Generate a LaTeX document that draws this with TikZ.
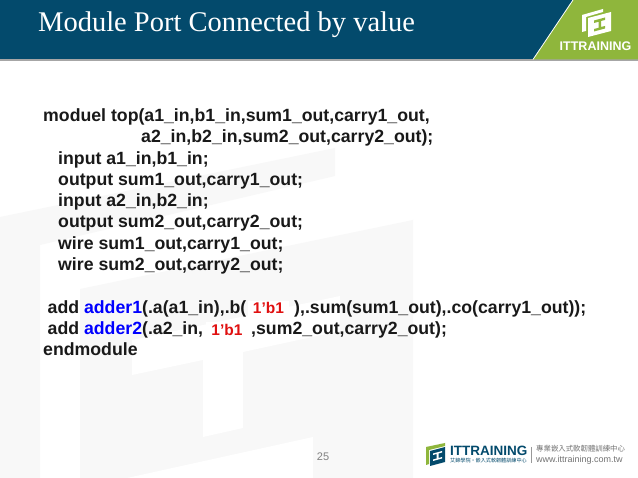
\documentclass[tikz,border=0pt]{standalone}
\usepackage{fontspec}
\setmainfont{Liberation Sans}
\newfontfamily\titlefont{Liberation Serif}
\newfontfamily\cjkfont{Noto Sans CJK TC}
\usepackage{xcolor}
\definecolor{bannerblue}{HTML}{034A6C}
\definecolor{leafgreen}{HTML}{8FB63C}
\definecolor{markgrey}{HTML}{F8F8F8}
\definecolor{valred}{HTML}{E01010}
\tikzset{codeline/.style={anchor=base west,inner sep=0pt,font=\fontsize{17.7}{20}\selectfont\bfseries,text=black!90},
 redval/.style={anchor=base,fill=white,inner xsep=5pt,inner ysep=2pt,font=\fontsize{15.5}{18}\selectfont\bfseries,text=valred},
 footline/.style={anchor=base west,inner sep=0pt,text=black!55},
 }
\begin{document}
\begin{tikzpicture}[x=1pt,y=-1pt]
        \useasboundingbox (0, 0) rectangle (638, 478);
        \fill[white] (0, 0) rectangle (638, 478);
        % grey mark behind the code
        \fill[markgrey] (0, 217) -- (335, 148) -- (335, 176) -- (40, 245) -- (40, 478) -- (0, 478) -- cycle;
        \fill[markgrey] (80, 289) -- (413, 220) -- (413, 478) -- (80, 478) -- cycle;
        \fill[white] (132, 340) -- (340, 296) -- (340, 331) -- (243, 352) -- (243, 428) -- (203, 437) -- (203, 360) -- (132, 375) -- cycle;
        \fill[white] (127, 478) -- (313, 437) -- (313, 478) -- cycle;
        % banner
        \fill[black!35] (0, 59) rectangle (638, 61);
        \fill[bannerblue] (0, 0) rectangle (638, 59.5);
        \fill[leafgreen] (573, 0) -- (638, 0) -- (638, 59.5) -- (533, 59.5) -- cycle;
        \draw[white, thick] (573, 0) -- (533, 59.5);
        \node[anchor=base west, inner sep=0pt, text=white, font=\titlefont\fontsize{28.5}{32}\selectfont] (title) at (38, 32) {Module Port Connected by value};
        \fill[white] (582, 15) -- (603, 9) -- (603, 12) -- (586, 17) -- (586, 31) -- (582, 32) -- cycle;
        \fill[white] (588, 18) -- (611, 12) -- (611, 31) -- (588, 37) -- cycle;
        \fill[leafgreen] (594, 20.5) -- (605, 17.5) -- (605, 20) -- (601, 21) -- (601, 27) -- (605, 26) -- (605, 28.5) -- (594, 31.5) -- (594, 29) -- (598.5, 27.8) -- (598.5, 21.8) -- (594, 23) -- cycle;
        \node[inner sep=0pt, text=white, font=\fontsize{12.5}{13}\selectfont\bfseries] (brand) at (595.5, 46) {ITTRAINING};
        % code
        \node[codeline] (line1) at (43, 122) {moduel top(a1\_in,b1\_in,sum1\_out,carry1\_out,};
        \node[codeline] (line2) at (141, 143) {a2\_in,b2\_in,sum2\_out,carry2\_out);};
        \node[codeline] (line3) at (58, 164.5) {input a1\_in,b1\_in;};
        \node[codeline] (line4) at (58, 185.5) {output sum1\_out,carry1\_out;};
        \node[codeline] (line5) at (58, 207) {input a2\_in,b2\_in;};
        \node[codeline] (line6) at (58, 228) {output sum2\_out,carry2\_out;};
        \node[codeline] (line7) at (58, 249.5) {wire sum1\_out,carry1\_out;};
        \node[codeline] (line8) at (58, 270.5) {wire sum2\_out,carry2\_out;};
        \node[codeline] (line9) at (47.5, 313.5) {add \textcolor{blue}{adder1}(.a(a1\_in),.b(};
        \node[codeline] (line9end) at (294, 313.5) {),.sum(sum1\_out),.co(carry1\_out));};
        \node[codeline] (line10) at (47.5, 335) {add \textcolor{blue}{adder2}(.a2\_in,};
        \node[codeline] (line10end) at (251, 335) {,sum2\_out,carry2\_out);};
        \node[codeline] (line11) at (43, 356) {endmodule};
        \node[redval] (val1) at (268.5, 314) {1’b1};
        \node[redval] (val2) at (227, 335.5) {1’b1};
        % footer
        \node[inner sep=0pt, text=black!50, font=\fontsize{11}{12}\selectfont] (page) at (323, 457) {25};
        \fill[leafgreen] (426, 447) -- (445, 443) -- (445, 446) -- (429, 450) -- (429, 464) -- (426, 465) -- cycle;
        \fill[bannerblue] (430, 451) -- (445, 447) -- (445, 462) -- (430, 466) -- cycle;
        \fill[white] (433, 453.5) -- (442, 451) -- (442, 452.5) -- (438.5, 453.5) -- (438.5, 458) -- (442, 457) -- (442, 458.5) -- (433, 461) -- (433, 459.5) -- (436.5, 458.5) -- (436.5, 454) -- (433, 455) -- cycle;
        \node[footline, text=bannerblue, font=\fontsize{13.5}{14}\selectfont\bfseries] (logo) at (450, 456) {ITTRAINING};
        \node[footline, text=bannerblue, font=\cjkfont\fontsize{5.1}{6}\selectfont] (school) at (450, 463) {艾鍗學院‧嵌入式軟韌體訓練中心};
        \node[footline, font=\cjkfont\fontsize{7.4}{8}\selectfont] (slogan) at (536, 452) {專業嵌入式軟韌體訓練中心};
        \node[footline, font=\fontsize{9}{10}\selectfont] (site) at (536, 463) {www.ittraining.com.tw};
        \draw[black!40] (531, 447) -- (531, 463);
\end{tikzpicture}
\end{document}
